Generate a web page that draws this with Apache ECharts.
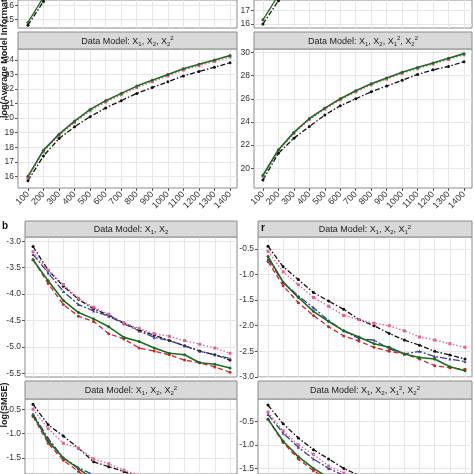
<!DOCTYPE html>
<html>
<head>
<meta charset="UTF-8">
<script src="https://cdn.jsdelivr.net/npm/echarts@6/dist/echarts.min.js"></script>
<style>
  * { margin: 0; padding: 0; }
  #main { width: 474px; height: 474px; }
</style>
</head>
<body>
<div id="main"></div>
<script>
// 样本量
var sizes = [100, 200, 300, 400, 500, 600, 700, 800, 900, 1000, 1100, 1200, 1300, 1400];

// 上方（信息量）面板
var infoTopL = { main: [14.8, 16.6, 17.6, 18.4], black: [14.6, 16.3, 17.3, 18.1] };
var infoTopR = { main: [16.3, 18.1, 19.2, 20.0], black: [16.0, 17.7, 18.8, 19.6] };
var infoL = {
  green: [16.0, 17.8, 18.9, 19.8, 20.6, 21.2, 21.7, 22.2, 22.6, 23.0, 23.4, 23.7, 24.0, 24.3],
  pink:  [15.9, 17.7, 18.8, 19.7, 20.5, 21.1, 21.6, 22.1, 22.5, 22.9, 23.3, 23.6, 23.9, 24.2],
  black: [15.7, 17.4, 18.6, 19.4, 20.1, 20.7, 21.2, 21.7, 22.1, 22.5, 22.9, 23.2, 23.5, 23.8]
};
var infoR = {
  green: [19.4, 21.6, 23.1, 24.3, 25.2, 26.0, 26.7, 27.3, 27.8, 28.3, 28.7, 29.1, 29.5, 29.9],
  pink:  [19.3, 21.5, 23.0, 24.2, 25.1, 25.9, 26.6, 27.2, 27.7, 28.2, 28.6, 29.0, 29.4, 29.8],
  black: [19.0, 21.3, 22.6, 23.6, 24.6, 25.4, 26.0, 26.6, 27.1, 27.6, 28.1, 28.5, 28.8, 29.2]
};

// 下方（SMSE）面板
var smseL1 = {
  black: [-3.1, -3.55, -3.85, -4.1, -4.28, -4.4, -4.55, -4.68, -4.78, -4.88, -4.98, -5.08, -5.15, -5.25],
  blue:  [-3.25, -3.6, -3.95, -4.2, -4.32, -4.42, -4.56, -4.7, -4.82, -4.88, -4.98, -5.08, -5.15, -5.22],
  pink:  [-3.2, -3.55, -3.82, -4.08, -4.25, -4.38, -4.55, -4.65, -4.75, -4.8, -4.88, -4.95, -5.02, -5.12],
  green: [-3.35, -3.75, -4.12, -4.35, -4.47, -4.62, -4.82, -4.9, -5.02, -5.12, -5.15, -5.3, -5.33, -5.4],
  red:   [-3.35, -3.8, -4.2, -4.42, -4.52, -4.75, -4.85, -5.02, -5.08, -5.15, -5.25, -5.3, -5.38, -5.48]
};
var smseR1 = {
  black: [-0.45, -0.85, -1.1, -1.35, -1.52, -1.68, -1.88, -2.0, -2.15, -2.28, -2.38, -2.5, -2.57, -2.65],
  pink:  [-0.55, -0.95, -1.2, -1.45, -1.62, -1.8, -1.88, -1.95, -2.0, -2.1, -2.22, -2.28, -2.35, -2.42],
  blue:  [-0.7, -1.15, -1.42, -1.65, -1.9, -2.1, -2.25, -2.28, -2.45, -2.55, -2.5, -2.6, -2.65, -2.7],
  green: [-0.65, -1.15, -1.45, -1.72, -1.92, -2.1, -2.22, -2.35, -2.42, -2.55, -2.62, -2.65, -2.8, -2.88],
  red:   [-0.75, -1.22, -1.55, -1.8, -2.02, -2.2, -2.3, -2.42, -2.5, -2.55, -2.65, -2.78, -2.82, -2.85]
};
var smseL2 = {
  black: [-0.4, -0.82, -1.05, -1.3, -1.58, -1.68, -1.78, -1.9, -2.0, -2.1, -2.2, -2.3, -2.4, -2.5],
  pink:  [-0.5, -0.9, -1.2, -1.3, -1.52, -1.62, -1.75, -1.85, -1.95, -2.05, -2.15, -2.25, -2.35, -2.45],
  blue:  [-0.6, -1.1, -1.5, -1.7, -1.85, -2.0, -2.1, -2.2, -2.3, -2.4, -2.5, -2.6, -2.7, -2.8],
  green: [-0.62, -1.15, -1.5, -1.72, -1.95, -2.1, -2.2, -2.3, -2.4, -2.5, -2.6, -2.7, -2.8, -2.9],
  red:   [-0.65, -1.2, -1.55, -1.78, -2.0, -2.15, -2.25, -2.35, -2.45, -2.55, -2.65, -2.75, -2.85, -2.95]
};
var smseR2 = {
  black: [-0.15, -0.55, -0.85, -1.1, -1.3, -1.5, -1.65, -1.8, -1.9, -2.0, -2.1, -2.2, -2.3, -2.4],
  pink:  [-0.3, -0.7, -1.0, -1.2, -1.45, -1.6, -1.75, -1.9, -2.0, -2.1, -2.2, -2.3, -2.4, -2.5],
  blue:  [-0.35, -0.75, -1.05, -1.3, -1.5, -1.65, -1.8, -1.95, -2.05, -2.15, -2.25, -2.35, -2.45, -2.55],
  green: [-0.45, -0.92, -1.25, -1.5, -1.7, -1.85, -2.0, -2.1, -2.2, -2.3, -2.4, -2.5, -2.6, -2.7],
  red:   [-0.45, -0.95, -1.3, -1.55, -1.75, -1.9, -2.05, -2.15, -2.25, -2.35, -2.45, -2.55, -2.65, -2.75]
};

var ticksInfoL = [15, 16, 17, 18, 19, 20, 21, 22, 23, 24];
var ticksInfoR = [16, 17, 18, 20, 22, 24, 26, 28, 30];
var ticksSmseL1 = [-3.0, -3.5, -4.0, -4.5, -5.0, -5.5];
var ticksSmse2 = [-0.5, -1.0, -1.5, -2.0, -2.5, -3.0];

var styles = {
  green: { color: '#1e6b1e', type: 'solid', symbol: 'circle' },
  red:   { color: '#c8282d', type: [5, 3], symbol: 'circle' },
  blue:  { color: '#3a3aa0', type: [7, 2, 2, 2], symbol: 'triangle' },
  pink:  { color: '#e0609a', type: [1.5, 2], symbol: 'rect' },
  black: { color: '#111111', type: [5, 2, 1.5, 2], symbol: 'circle' }
};

var grids = [
  { left: 18, top: -2, width: 219, height: 30, xmin: 36, xmax: 1445, ymin: 14.4, ymax: 16.4, ticks: ticksInfoL, data: infoTopL, xlab: false },
  { left: 254, top: -2, width: 218, height: 30, xmin: 42, xmax: 1452, ymin: 15.7, ymax: 17.75, ticks: ticksInfoR, data: infoTopR, xlab: false },
  { left: 18, top: 49, width: 219, height: 139, xmin: 36, xmax: 1445, ymin: 15.2, ymax: 24.75, ticks: ticksInfoL, data: infoL, xlab: true },
  { left: 254, top: 49, width: 218, height: 139, xmin: 42, xmax: 1452, ymin: 18.3, ymax: 30.3, ticks: ticksInfoR, data: infoR, xlab: true },
  { left: 25, top: 237, width: 212, height: 140, xmin: 47, xmax: 1446, ymin: -5.57, ymax: -2.92, ticks: ticksSmseL1, data: smseL1, xlab: false },
  { left: 258, top: 237, width: 214, height: 140, xmin: 34, xmax: 1446, ymin: -3.0, ymax: -0.27, ticks: ticksSmse2, data: smseR1, xlab: false },
  { left: 25, top: 399, width: 212, height: 80, xmin: 47, xmax: 1446, ymin: -1.83, ymax: -0.29, ticks: ticksSmse2, data: smseL2, xlab: false },
  { left: 258, top: 399, width: 214, height: 80, xmin: 34, xmax: 1446, ymin: -1.62, ymax: -0.02, ticks: ticksSmse2, data: smseR2, xlab: false }
];

var option = { animation: false, backgroundColor: '#fff', grid: [], xAxis: [], yAxis: [], series: [], graphic: [] };

grids.forEach(function (g, i) {
  option.grid.push({ left: g.left, top: g.top, width: g.width, height: g.height, show: true, borderColor: '#8a8a8a', borderWidth: 1, backgroundColor: '#fff' });
  option.xAxis.push({
    type: 'value', gridIndex: i, min: g.xmin, max: g.xmax,
    axisLine: { show: false },
    axisTick: { show: g.xlab, length: 3, lineStyle: { color: '#555' }, customValues: sizes },
    axisLabel: { show: g.xlab, rotate: 45, fontSize: 9, color: '#333', margin: 5, customValues: sizes,
      formatter: function (v) { return String(v); } },
    splitLine: { show: true, lineStyle: { color: '#e6e6e6' } }
  });
  option.yAxis.push({
    type: 'value', gridIndex: i, min: g.ymin, max: g.ymax,
    axisLine: { show: false },
    axisTick: { show: true, length: 3, lineStyle: { color: '#555' }, customValues: g.ticks },
    axisLabel: { fontSize: 8.5, color: '#333', margin: 4, customValues: g.ticks,
      formatter: function (v) { return v < 0 ? v.toFixed(1) : String(v); } },
    splitLine: { show: true, lineStyle: { color: '#e6e6e6' } }
  });
  Object.keys(g.data).forEach(function (k) {
    var s = styles[k] || styles.green;
    var vals = g.data[k];
    var pts = vals.map(function (v, j) { return [sizes[j], v]; });
    option.series.push({
      type: 'line', xAxisIndex: i, yAxisIndex: i, data: pts,
      symbol: s.symbol, symbolSize: 3, showSymbol: true, clip: true,
      lineStyle: { color: s.color, width: k === 'green' ? 1.6 : 1.3, type: s.type },
      itemStyle: { color: s.color },
      z: k === 'green' ? 5 : 3
    });
  });
});

// 面板标题条
var strips = [
  { x: 18, y: 32, w: 219, h: 17, text: 'Data Model: X{s|1}, X{s|2}, X{s|2}{p|2}' },
  { x: 254, y: 32, w: 218, h: 17, text: 'Data Model: X{s|1}, X{s|2}, X{s|1}{p|2}, X{s|2}{p|2}' },
  { x: 25, y: 221, w: 212, h: 16, text: 'Data Model: X{s|1}, X{s|2}' },
  { x: 258, y: 221, w: 214, h: 16, text: 'Data Model: X{s|1}, X{s|2}, X{s|1}{p|2}' },
  { x: 25, y: 381, w: 212, h: 18, text: 'Data Model: X{s|1}, X{s|2}, X{s|2}{p|2}' },
  { x: 258, y: 381, w: 214, h: 18, text: 'Data Model: X{s|1}, X{s|2}, X{s|1}{p|2}, X{s|2}{p|2}' }
];
strips.forEach(function (s) {
  option.graphic.push({ type: 'rect', shape: { x: s.x, y: s.y, width: s.w, height: s.h },
    style: { fill: '#d9d9d9', stroke: '#8a8a8a', lineWidth: 1 }, z: 10 });
  option.graphic.push({ type: 'text', x: s.x + s.w / 2, y: s.y + s.h / 2 + 1, z: 11,
    style: { text: s.text, fill: '#222', fontSize: 9, align: 'center', verticalAlign: 'middle', fontFamily: 'Liberation Sans',
      rich: { s: { fontSize: 6, padding: [5, 0, 0, 0] }, p: { fontSize: 6, padding: [0, 0, 6, 0] } } } });
});

option.graphic.push(
  { type: 'text', x: 0, y: 118, rotation: Math.PI / 2, z: 12,
    style: { text: 'log(Average Model Information)', fontSize: 9, fontWeight: 'bold', fill: '#222', align: 'left', verticalAlign: 'top', fontFamily: 'Liberation Sans' } },
  { type: 'text', x: 0, y: 405, rotation: Math.PI / 2, z: 12,
    style: { text: 'log(SMSE)', fontSize: 9, fontWeight: 'bold', fill: '#222', align: 'center', verticalAlign: 'top', fontFamily: 'Liberation Sans' } },
  { type: 'text', x: 2, y: 221, z: 12, style: { text: 'b', fontSize: 10, fontWeight: 'bold', fill: '#111', fontFamily: 'Liberation Sans' } },
  { type: 'text', x: 261, y: 223, z: 12, style: { text: 'r', fontSize: 10, fontWeight: 'bold', fill: '#111', fontFamily: 'Liberation Sans' } }
);

var myChart = echarts.init(document.getElementById('main'));
myChart.setOption(option);
</script>
</body>
</html>
